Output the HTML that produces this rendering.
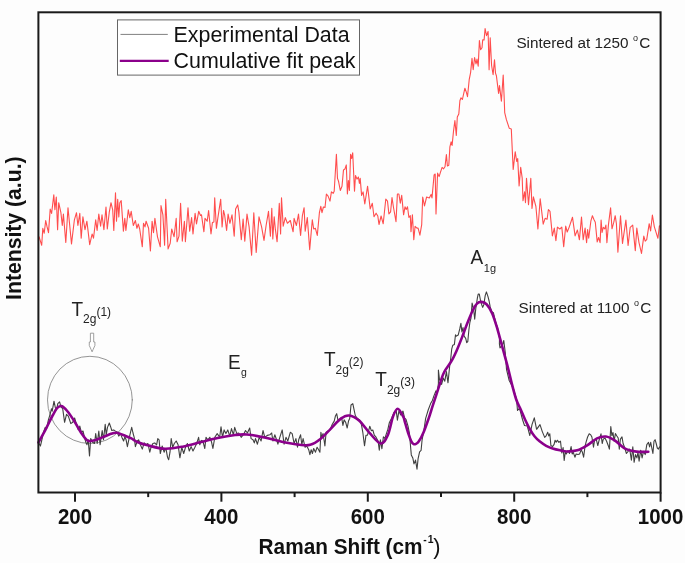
<!DOCTYPE html>
<html><head><meta charset="utf-8"><style>
html,body{margin:0;padding:0;background:#fff;}
svg{display:block;filter:blur(0.35px);}
text{font-family:"Liberation Sans",Arial,sans-serif;}
</style></head><body>
<svg width="685" height="563" viewBox="0 0 685 563">
<rect x="0" y="0" width="685" height="563" fill="#fdfdfd"/>
<g fill="none" stroke-linejoin="round" stroke-linecap="round">
<polyline points="39.1,236.8 41.7,245.3 42.8,228.3 44.2,233.3 45.7,220.5 47.1,226.9 48.5,232.6 50.2,209.1 51.6,213.4 53.8,194.9 54.9,209.8 56.3,197.0 57.6,229.7 58.7,202.7 60.9,212.7 62.3,225.5 63.4,214.1 65.8,242.5 68.0,207.7 71.5,243.9 74.4,219.8 76.5,212.7 77.9,225.5 79.8,213.4 81.2,238.2 82.9,216.9 85.0,229.7 86.9,221.2 89.7,244.6 92.1,234.0 93.5,238.2 95.7,219.8 97.1,230.4 98.8,214.1 100.6,226.2 102.0,214.8 103.9,229.7 106.0,207.0 107.3,229.0 109.2,212.7 111.0,202.7 112.7,209.8 113.8,230.4 115.5,192.8 116.5,221.2 117.7,199.2 118.8,216.9 119.8,202.7 121.2,200.6 123.4,231.1 124.8,218.4 125.9,230.4 128.3,209.8 129.8,217.6 131.2,211.3 133.3,225.5 135.4,220.5 136.9,228.3 138.3,224.0 139.7,229.0 142.3,246.8 143.5,223.3 145.0,226.9 146.1,221.2 148.6,228.3 150.4,251.0 152.1,221.2 153.5,232.6 154.9,218.4 157.5,236.8 160.3,246.8 161.0,205.6 162.9,214.8 164.6,245.3 165.7,199.2 168.1,248.9 170.2,243.2 171.7,229.0 174.1,236.8 176.2,218.4 177.1,241.8 179.0,236.1 180.6,203.4 182.3,241.1 184.4,221.2 185.4,241.8 188.0,207.7 189.7,231.1 191.6,217.6 193.0,234.0 195.1,213.4 196.5,224.0 198.7,211.3 200.5,215.5 201.5,214.8 203.9,231.8 205.0,218.4 207.2,221.2 208.6,210.5 211.0,234.0 212.4,222.6 213.9,221.9 214.7,197.8 216.4,228.3 217.8,218.4 220.7,199.2 222.1,226.9 223.5,210.5 224.6,214.8 226.6,230.4 228.1,214.1 229.9,223.3 232.0,214.8 234.2,236.1 235.6,209.1 237.7,204.9 238.9,212.0 241.3,239.7 243.1,219.1 244.8,241.1 247.0,214.1 249.1,226.9 251.6,255.3 253.8,212.7 256.2,252.4 259.0,216.9 261.6,226.9 264.0,240.4 266.1,225.5 268.5,211.3 270.4,236.1 271.8,208.4 272.8,238.9 274.2,216.9 275.4,229.7 277.1,241.8 279.3,203.4 280.6,234.0 281.5,197.8 283.2,226.2 285.3,217.6 287.4,223.3 290.3,220.5 293.1,231.8 294.1,218.4 296.4,225.5 298.5,214.1 300.6,235.4 302.4,215.5 304.1,207.7 305.2,231.1 307.3,217.6 309.7,249.6 312.3,219.8 313.7,229.0 315.4,228.3 317.3,235.4 319.4,212.7 320.8,206.3 322.0,212.7 323.4,207.0 325.0,207.5 326.4,194.0 328.1,196.1 330.0,201.1 331.4,191.9 333.2,193.3 334.2,191.2 336.4,154.2 337.5,178.4 338.5,181.2 340.3,190.5 342.0,186.2 343.5,169.9 344.9,169.1 346.3,164.9 347.4,194.0 348.4,180.5 349.4,190.5 350.6,154.2 351.7,158.5 352.7,152.8 354.5,191.2 355.5,175.5 357.0,179.1 358.4,177.0 359.4,183.4 360.2,178.4 361.6,195.4 363.1,191.9 364.8,204.0 367.6,186.2 370.2,208.9 372.3,203.2 374.0,216.7 376.1,213.2 377.8,216.0 379.0,224.5 381.1,216.0 383.2,223.8 385.8,199.0 387.5,201.1 388.9,213.9 390.6,211.8 392.0,197.6 393.5,207.5 396.0,221.7 397.4,194.0 398.9,194.0 400.3,203.2 401.7,195.4 403.6,214.8 405.0,206.8 406.2,209.5 407.5,206.8 408.9,217.5 410.3,215.7 411.0,231.7 412.4,214.8 413.8,239.6 415.1,226.3 416.9,228.1 418.1,228.1 419.9,235.2 421.7,224.6 422.7,197.0 424.5,205.9 426.6,197.0 429.3,197.9 431.1,194.4 432.0,197.9 434.1,174.9 435.2,174.0 436.0,213.9 437.6,173.1 439.1,176.6 440.5,172.2 442.1,167.4 443.6,168.8 445.0,166.7 446.4,154.6 447.4,166.0 448.8,165.3 449.9,146.8 451.1,141.8 452.1,145.4 453.5,131.2 454.9,120.5 456.3,135.5 457.3,117.0 458.8,114.1 459.9,100.7 461.0,97.8 462.4,99.5 464.9,88.2 466.4,92.4 467.5,96.7 469.2,79.7 470.6,72.6 472.0,58.4 473.2,69.7 474.6,57.6 476.0,64.0 477.0,59.1 478.2,66.2 479.4,40.6 480.6,49.8 482.0,47.7 482.7,39.9 484.1,39.9 485.1,28.5 486.5,35.6 488.1,31.4 489.1,69.7 490.2,37.8 491.6,65.5 493.1,74.7 494.5,59.8 495.5,73.1 496.4,75.7 498.6,93.4 499.5,85.6 501.4,101.3 503.2,75.0 504.2,98.4 504.7,112.6 506.4,119.7 509.2,128.2 511.3,128.9 511.8,140.0 513.2,169.4 515.2,151.7 516.7,161.5 517.7,158.6 519.1,186.0 520.7,167.4 522.2,178.2 523.0,200.7 524.6,191.9 525.5,202.6 526.5,178.2 528.5,204.6 530.8,178.2 532.0,208.5 533.4,196.8 535.9,206.5 537.9,229.0 540.2,198.7 543.2,224.1 545.1,218.3 547.1,219.3 548.4,209.5 550.0,211.4 552.4,235.9 554.3,228.1 555.9,240.8 557.4,227.1 559.8,229.0 561.8,227.1 563.7,246.7 565.7,226.1 567.2,232.0 569.2,227.1 572.5,217.3 575.1,235.9 577.4,230.0 579.4,239.8 581.5,217.1 583.2,239.7 585.1,228.1 586.6,242.6 587.6,229.5 588.7,238.3 590.9,220.8 592.4,215.7 593.8,219.3 595.3,222.2 597.2,241.9 598.6,237.5 600.1,242.6 601.1,220.1 602.1,232.4 603.3,227.3 604.8,228.8 605.9,225.1 606.9,242.6 608.4,225.1 610.6,207.7 612.0,228.8 613.8,222.2 615.2,215.7 616.4,223.7 617.9,252.1 620.5,215.7 622.5,243.4 625.9,220.1 628.1,245.5 630.2,227.3 632.7,225.1 635.3,250.6 636.8,228.1 639.0,242.6 641.5,253.5 643.8,236.1 645.2,241.2 646.7,239.7 649.2,223.7 650.6,231.0 652.4,215.0 654.3,226.6 657.9,238.3 659.4,225.9" stroke="#ff4d4d" stroke-width="1.1"/>
<ellipse cx="89.9" cy="399.9" rx="42.4" ry="43.6" stroke="#7a7a7a" stroke-width="0.8"/>
<polyline points="39.1,443.5 40.4,446.0 41.6,441.0 43.5,432.3 45.3,427.3 46.6,428.6 48.4,419.9 50.3,413.6 51.5,408.7 52.2,411.1 54.0,401.2 55.3,407.4 56.5,409.9 57.8,403.7 59.6,401.8 60.9,406.8 62.7,408.7 64.6,422.3 66.5,414.3 68.3,416.1 70.8,423.6 72.7,422.3 74.6,418.0 76.4,424.2 78.3,429.8 79.8,426.1 81.4,432.3 83.0,431.0 84.5,437.3 85.8,442.2 87.0,444.7 88.2,439.8 89.5,455.9 90.7,438.5 92.6,442.2 94.5,443.5 95.7,433.5 97.2,443.5 98.8,431.0 100.1,444.7 101.2,437.3 102.2,430.5 103.5,439.8 105.2,424.3 106.2,434.8 107.5,427.4 109.3,423.0 110.6,426.7 111.8,430.5 113.7,429.9 115.5,431.1 117.4,432.3 118.7,436.1 120.5,433.6 122.4,438.6 123.6,441.0 124.9,436.7 126.1,439.8 127.4,446.6 129.2,437.9 130.5,432.3 131.7,427.4 133.0,433.0 134.2,437.3 135.4,446.6 137.3,441.0 138.6,439.8 140.4,444.8 142.3,449.1 144.2,442.9 146.0,444.8 147.9,443.5 149.8,452.2 151.0,447.3 152.9,443.5 154.7,442.9 156.6,444.8 157.8,438.6 159.1,439.8 160.3,453.5 162.2,446.0 164.1,452.2 165.3,449.1 166.2,449.8 167.5,457.2 168.7,459.7 170.0,452.2 171.2,438.6 172.7,447.3 174.3,443.5 176.2,441.0 178.1,444.8 179.9,457.8 181.8,447.3 183.7,453.5 185.5,447.3 187.4,443.5 189.3,451.0 191.1,446.6 193.0,451.0 194.9,447.3 196.7,443.5 198.6,437.3 199.8,444.8 201.3,440.4 202.9,441.0 204.8,448.5 206.0,437.3 207.9,439.8 209.8,437.3 211.6,442.3 212.9,448.5 214.8,437.3 217.2,433.6 219.7,437.3 221.0,426.7 222.5,437.3 224.1,429.9 225.9,433.6 227.8,429.9 229.7,436.1 231.5,428.6 233.4,434.8 234.7,427.4 236.8,433.6 238.7,433.0 241.2,437.3 243.7,434.2 245.5,430.5 247.4,433.0 249.7,428.0 251.1,438.6 253.0,439.8 254.3,442.9 255.5,438.6 257.4,444.2 259.2,437.3 261.1,441.0 263.0,430.5 264.8,437.3 267.3,435.4 269.8,434.8 271.7,433.0 272.9,441.0 274.8,434.8 276.6,439.8 277.9,444.2 279.8,437.3 282.2,429.9 284.1,444.2 286.0,437.3 287.8,441.0 290.3,432.3 292.2,433.6 294.1,443.5 295.9,438.6 297.5,447.2 298.7,439.8 300.6,434.8 301.8,444.8 303.1,438.5 305.0,447.2 306.8,446.0 308.7,449.7 309.9,454.7 311.2,449.7 312.4,453.5 313.7,448.5 315.5,452.2 317.1,447.2 318.6,449.7 319.9,452.2 320.9,432.3 321.7,437.3 323.0,433.6 324.2,441.0 324.9,446.0 326.1,432.3 328.0,431.1 329.8,430.4 332.3,424.2 334.2,421.1 335.4,416.1 336.7,413.7 337.9,419.9 339.8,419.3 341.6,417.4 342.9,425.5 344.1,419.9 345.7,422.4 347.2,428.0 348.5,421.1 349.7,418.6 351.0,405.0 352.8,403.7 354.1,409.9 355.3,415.5 357.2,418.6 359.7,419.9 361.5,424.9 362.8,432.3 364.5,445.8 366.0,435.2 367.5,435.2 369.8,426.2 371.3,430.7 372.8,430.0 374.3,435.2 375.8,436.8 378.1,441.3 379.3,450.3 380.4,439.8 381.9,448.8 383.4,436.8 384.9,438.3 386.4,433.7 387.9,429.2 389.4,422.4 391.7,417.9 393.9,412.6 396.2,410.4 397.4,420.2 398.9,411.1 400.7,414.9 403.0,411.1 404.5,417.9 406.0,419.4 408.0,426.2 409.5,433.7 410.5,445.8 411.3,454.9 412.8,457.9 414.0,463.9 415.5,460.1 417.0,469.2 418.1,458.6 419.6,451.8 421.1,450.3 422.1,439.8 424.1,429.2 425.6,418.7 428.2,410.0 430.6,403.6 432.4,400.4 434.0,395.6 436.0,390.8 437.2,393.4 438.4,383.5 438.4,370.0 439.5,379.6 441.6,384.4 443.2,378.0 444.8,381.2 446.4,371.6 448.0,382.8 449.6,366.8 450.7,358.8 451.7,349.2 452.8,345.2 454.4,344.4 455.5,334.8 456.1,336.2 458.2,335.1 459.8,328.7 460.9,323.4 461.9,331.9 463.0,327.6 464.1,336.2 465.7,338.3 466.7,342.6 467.8,341.5 468.9,329.8 469.9,322.3 471.0,318.0 472.1,303.1 473.7,309.5 474.7,319.1 475.8,308.5 477.4,297.8 478.2,294.1 479.3,294.1 480.6,301.0 481.7,304.7 482.7,307.4 483.8,304.7 485.2,295.7 486.4,291.9 488.0,296.7 489.1,301.0 490.2,306.9 491.8,311.7 493.4,312.7 494.4,317.0 496.0,323.4 497.6,327.6 498.7,334.0 499.5,338.0 499.4,344.0 500.0,347.9 502.5,345.0 503.8,340.5 504.2,344.0 505.2,352.0 506.5,369.3 509.2,380.5 511.6,385.0 513.5,389.0 516.6,399.5 517.5,410.5 519.5,408.0 522.5,419.5 524.5,425.5 527.3,426.0 529.8,435.5 532.0,424.7 534.3,417.8 536.6,429.3 540.0,424.7 542.3,431.6 544.7,437.4 546.1,435.9 547.7,432.2 548.7,435.9 549.8,433.8 550.9,445.5 552.5,446.6 554.1,444.4 555.1,440.2 556.2,442.3 557.3,440.2 558.9,442.3 560.5,441.2 561.8,453.0 563.1,447.6 564.2,460.4 565.3,451.9 566.3,454.0 567.9,450.8 569.5,453.5 571.1,446.6 572.2,454.0 573.3,452.4 574.9,457.2 576.1,454.0 578.0,454.6 579.6,454.0 581.2,449.8 582.3,451.9 583.6,457.2 585.0,446.6 586.0,442.3 587.6,437.0 589.2,433.8 590.8,434.9 591.9,437.0 593.5,447.1 594.6,440.2 596.2,439.1 597.8,445.5 599.4,439.1 601.0,433.8 602.2,443.5 603.3,439.1 605.0,438.0 606.6,441.3 608.3,445.7 609.4,449.1 610.8,426.5 611.9,435.8 613.0,432.5 614.1,441.3 615.4,433.6 616.7,435.8 618.2,438.0 619.3,449.1 620.4,439.1 622.0,436.9 623.1,443.5 624.8,448.0 626.4,453.5 628.1,451.3 629.7,449.1 631.4,460.1 632.8,446.9 634.1,462.3 635.5,454.6 636.9,457.9 638.0,452.4 639.1,461.2 640.7,450.2 642.1,457.9 643.5,451.3 645.2,454.6 646.8,444.6 648.5,442.4 649.6,446.9 650.7,442.4 651.8,448.0 652.9,453.5 654.0,441.3 655.1,439.7 656.2,443.5 657.3,448.0 658.4,449.1 659.5,446.9" stroke="#404040" stroke-width="1.1"/>
<path d="M38.4,442.5 C39.5,440.4 42.9,434.6 45.3,430.1 C47.7,425.6 50.6,419.1 52.6,415.5 C54.6,411.9 55.5,409.8 57.0,408.2 C58.5,406.6 59.7,405.6 61.4,406.1 C63.1,406.6 65.0,408.4 67.2,411.0 C69.4,413.6 72.1,417.7 74.5,421.5 C76.9,425.3 79.6,430.6 81.8,433.8 C84.0,437.0 85.6,439.5 87.6,440.6 C89.5,441.7 91.1,441.1 93.5,440.6 C95.9,440.1 99.3,438.5 102.2,437.4 C105.1,436.3 108.6,434.6 111.0,433.8 C113.4,433.0 114.4,432.4 116.8,432.8 C119.2,433.2 123.2,435.1 125.6,436.0 C128.0,436.9 129.4,437.4 131.4,438.4 C133.4,439.4 134.6,440.9 137.3,442.0 C140.0,443.1 142.9,444.2 147.5,445.3 C152.1,446.4 159.2,448.6 165.0,448.8 C170.8,449.0 176.8,447.8 182.6,446.7 C188.4,445.6 194.2,443.8 200.0,442.3 C205.8,440.9 211.8,439.2 217.6,438.0 C223.4,436.8 230.2,435.6 235.1,435.0 C240.0,434.4 241.9,434.1 246.8,434.5 C251.7,434.9 258.5,436.2 264.3,437.4 C270.1,438.6 276.0,440.6 281.8,441.8 C287.6,443.0 294.6,444.2 299.3,444.7 C304.0,445.2 306.7,445.8 310.2,444.8 C313.7,443.9 317.0,441.7 320.4,439.0 C323.8,436.3 327.3,432.2 330.7,428.8 C334.1,425.4 337.8,420.8 340.9,418.6 C343.9,416.4 345.9,415.1 349.0,415.5 C352.1,415.9 355.9,417.8 359.3,420.7 C362.7,423.6 365.9,429.1 369.5,432.9 C373.1,436.7 377.6,443.1 380.7,443.5 C383.8,443.9 385.8,439.5 387.9,435.0 C389.9,430.5 391.4,421.0 393.0,416.6 C394.6,412.2 396.0,408.8 397.7,408.8 C399.4,408.8 402.0,414.4 403.2,416.6 C404.4,418.9 404.1,419.3 405.0,422.3 C405.9,425.3 407.6,431.5 408.7,434.7 C409.8,437.9 410.5,439.7 411.3,441.3 C412.1,442.9 412.9,443.7 413.7,444.1 C414.5,444.5 415.2,444.2 416.0,443.8 C416.8,443.4 417.4,443.5 418.7,441.6 C420.0,439.7 422.0,436.0 423.6,432.2 C425.2,428.4 427.0,423.2 428.6,418.6 C430.2,414.1 431.6,409.0 433.0,404.9 C434.4,400.8 435.5,397.5 436.7,393.7 C437.9,389.9 439.1,385.8 440.4,382.2 C441.6,378.6 442.4,375.5 444.2,372.0 C446.0,368.5 449.2,364.9 451.3,361.4 C453.4,357.8 454.8,354.7 456.6,350.7 C458.4,346.7 460.2,342.0 462.0,337.4 C463.8,332.8 465.5,327.6 467.3,323.2 C469.1,318.8 471.0,314.1 472.6,310.8 C474.2,307.5 475.5,305.1 477.0,303.6 C478.5,302.1 479.9,301.8 481.5,301.9 C483.1,302.0 485.0,302.6 486.8,304.5 C488.6,306.4 490.5,309.5 492.2,313.4 C493.9,317.2 495.4,322.3 497.0,327.6 C498.6,332.9 500.2,339.2 501.9,345.4 C503.6,351.6 505.5,358.5 507.2,364.9 C508.9,371.3 510.3,377.8 511.8,383.6 C513.3,389.5 514.9,395.7 516.4,400.0 C517.9,404.3 519.3,406.3 520.7,409.5 C522.1,412.7 523.4,416.0 524.9,419.2 C526.4,422.4 528.1,426.0 529.7,428.8 C531.3,431.6 532.8,434.1 534.5,436.2 C536.2,438.3 537.9,440.0 539.9,441.6 C541.9,443.2 544.1,444.7 546.2,445.8 C548.3,446.9 550.3,447.8 552.6,448.5 C554.9,449.2 557.6,449.8 560.0,450.3 C562.4,450.8 564.1,451.5 567.0,451.5 C569.9,451.5 573.9,451.3 577.3,450.3 C580.7,449.3 583.9,447.3 587.2,445.3 C590.5,443.3 593.9,439.9 597.0,438.4 C600.1,436.9 602.9,436.2 605.9,436.5 C608.9,436.8 611.6,438.4 614.7,440.4 C617.8,442.4 621.0,446.4 624.6,448.3 C628.2,450.2 632.5,451.0 636.4,451.6 C640.3,452.2 646.3,451.8 648.3,451.8" stroke="#8b008b" stroke-width="2.6"/>
</g>
<path d="M90.4,333.2 H93.7 V342 H94.9 V345.5 L93.2,349.3 L92.1,351.8 L91,349.3 L89.3,345.5 V342 H90.4 Z" fill="#fff" stroke="#888" stroke-width="0.8"/>
<g stroke="#1a1a1a" stroke-width="2" fill="none">
<rect x="38.4" y="12.3" width="622.2" height="480.2"/>
<line x1="75.0" y1="492.5" x2="75.0" y2="501.7"/><line x1="221.4" y1="492.5" x2="221.4" y2="501.7"/><line x1="367.8" y1="492.5" x2="367.8" y2="501.7"/><line x1="514.2" y1="492.5" x2="514.2" y2="501.7"/><line x1="660.6" y1="492.5" x2="660.6" y2="501.7"/><line x1="148.2" y1="492.5" x2="148.2" y2="497.1"/><line x1="294.6" y1="492.5" x2="294.6" y2="497.1"/><line x1="441.0" y1="492.5" x2="441.0" y2="497.1"/><line x1="587.4" y1="492.5" x2="587.4" y2="497.1"/>
</g>
<g font-weight="bold" font-size="20.5" text-anchor="middle" fill="#111"><text transform="translate(75.0,523.5) scale(1,1.1)">200</text><text transform="translate(221.4,523.5) scale(1,1.1)">400</text><text transform="translate(367.8,523.5) scale(1,1.1)">600</text><text transform="translate(514.2,523.5) scale(1,1.1)">800</text><text transform="translate(660.6,523.5) scale(1,1.1)">1000</text></g>
<text transform="translate(258.6,554.4) scale(0.99,1.02)" font-weight="bold" font-size="21" fill="#111">Raman Shift (cm<tspan font-size="10.5" dy="-11.5" dx="0.8">-</tspan><tspan font-size="10.5" dx="1.0">1</tspan><tspan dy="11.5" dx="-0.2" font-weight="normal" font-size="22">)</tspan></text>
<text transform="translate(21,228.15) rotate(-90) scale(1,1.06)" text-anchor="middle" font-weight="bold" font-size="21.2" fill="#111">Intensity (a.u.)</text>
<rect x="117.5" y="19.9" width="242" height="55.2" fill="#fff" stroke="#666" stroke-width="1"/>
<line x1="120.5" y1="34.4" x2="167.8" y2="34.4" stroke="#808080" stroke-width="1"/>
<line x1="119.8" y1="60.9" x2="168.7" y2="60.9" stroke="#8b008b" stroke-width="2.4"/>
<g font-size="21.4" fill="#111">
<text transform="translate(173.6,41.5) scale(1,1.02)">Experimental Data</text>
<text transform="translate(173.6,67.7) scale(1,1.02)">Cumulative fit peak</text>
</g>
<g font-size="15.3" fill="#222">
<text transform="translate(516.4,48.2) scale(1,0.98)">Sintered at 1250 <tspan font-size="9" dy="-7.3" dx="0.2">o</tspan><tspan dy="7.3" dx="1.2">C</tspan></text>
<text transform="translate(518.6,313.0) scale(1,0.98)">Sintered at 1100 <tspan font-size="9" dy="-7.3" dx="0.2">o</tspan><tspan dy="7.3" dx="1.2">C</tspan></text>
</g>
<g fill="#222" font-size="19">
<text transform="translate(71.5,316.1) scale(1,1.04)">T<tspan font-size="12" dy="6.9">2g</tspan><tspan font-size="12" dy="-7">(1)</tspan></text>
<text transform="translate(227.9,368.8) scale(1,1.04)">E<tspan font-size="10.5" dy="7.3" dx="0.5">g</tspan></text>
<text transform="translate(323.9,365.7) scale(1,1.04)">T<tspan font-size="12" dy="7.5">2g</tspan><tspan font-size="12" dy="-7.5">(2)</tspan></text>
<text transform="translate(375.3,386.1) scale(1,1.04)">T<tspan font-size="12" dy="7.5">2g</tspan><tspan font-size="12" dy="-7.5">(3)</tspan></text>
<text transform="translate(470.5,263.8) scale(1,1.04)">A<tspan font-size="11" dy="7.4" dx="0.6">1g</tspan></text>
</g>
</svg>
</body></html>
